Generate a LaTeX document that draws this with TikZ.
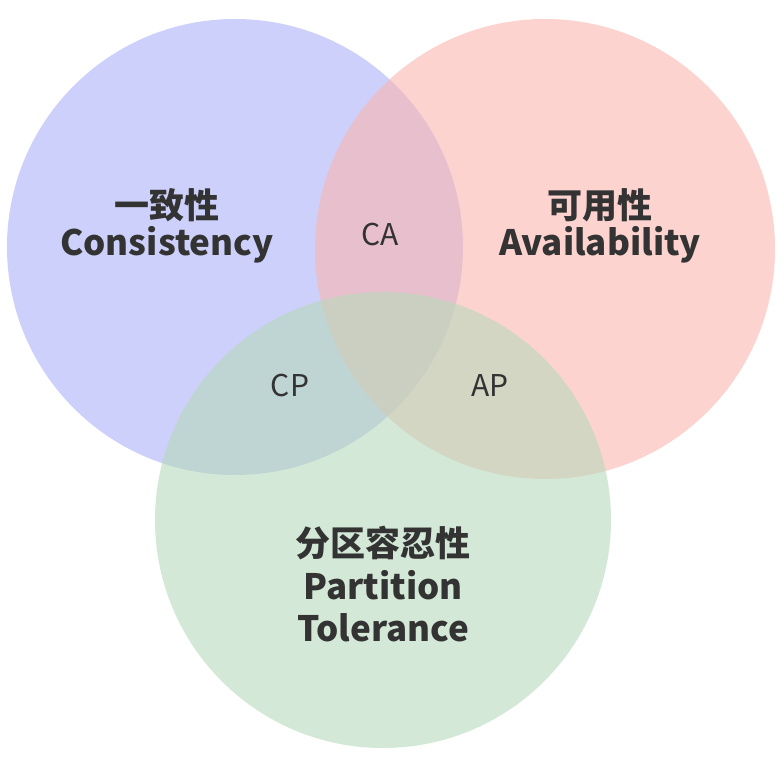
\documentclass[tikz,border=0pt]{standalone}
\usepackage{fontspec}
\setmainfont{Noto Sans CJK SC}
\begin{document}
\begin{tikzpicture}[x=1pt,y=-1pt,
 circ/.style={fill opacity=0.6,draw=none},
 big/.style={font=\fontsize{35}{36}\selectfont\bfseries,text=black!80,align=center,inner sep=0},
 small/.style={font=\fontsize{30}{30}\selectfont,text=black!80,inner sep=0}]
\definecolor{cb}{RGB}{172,177,247}
\definecolor{cr}{RGB}{250,182,175}
\definecolor{cg}{RGB}{183,217,187}
\fill[white] (0,0) rectangle (784,762);
\useasboundingbox (0,0) rectangle (784,762);
\fill[cb,circ] (235,247) circle (228);
\fill[cr,circ] (545,249) circle (230);
\fill[cg,circ] (383,520) circle (228);
\node[big] (c1) at (167,205) {一致性};
\node[big] (c2) at (167,245) {Consistency};
\node[big] (a1) at (600,205) {可用性};
\node[big] (a2) at (600,245) {Availability};
\node[big] (p1) at (383,543) {分区容忍性};
\node[big] (p2) at (383,585) {Partition};
\node[big] (p3) at (383,628) {Tolerance};
\node[small] (ca) at (380,235) {CA};
\node[small] (cp) at (290,386) {CP};
\node[small] (ap) at (490,386) {AP};
\end{tikzpicture}
\end{document}
